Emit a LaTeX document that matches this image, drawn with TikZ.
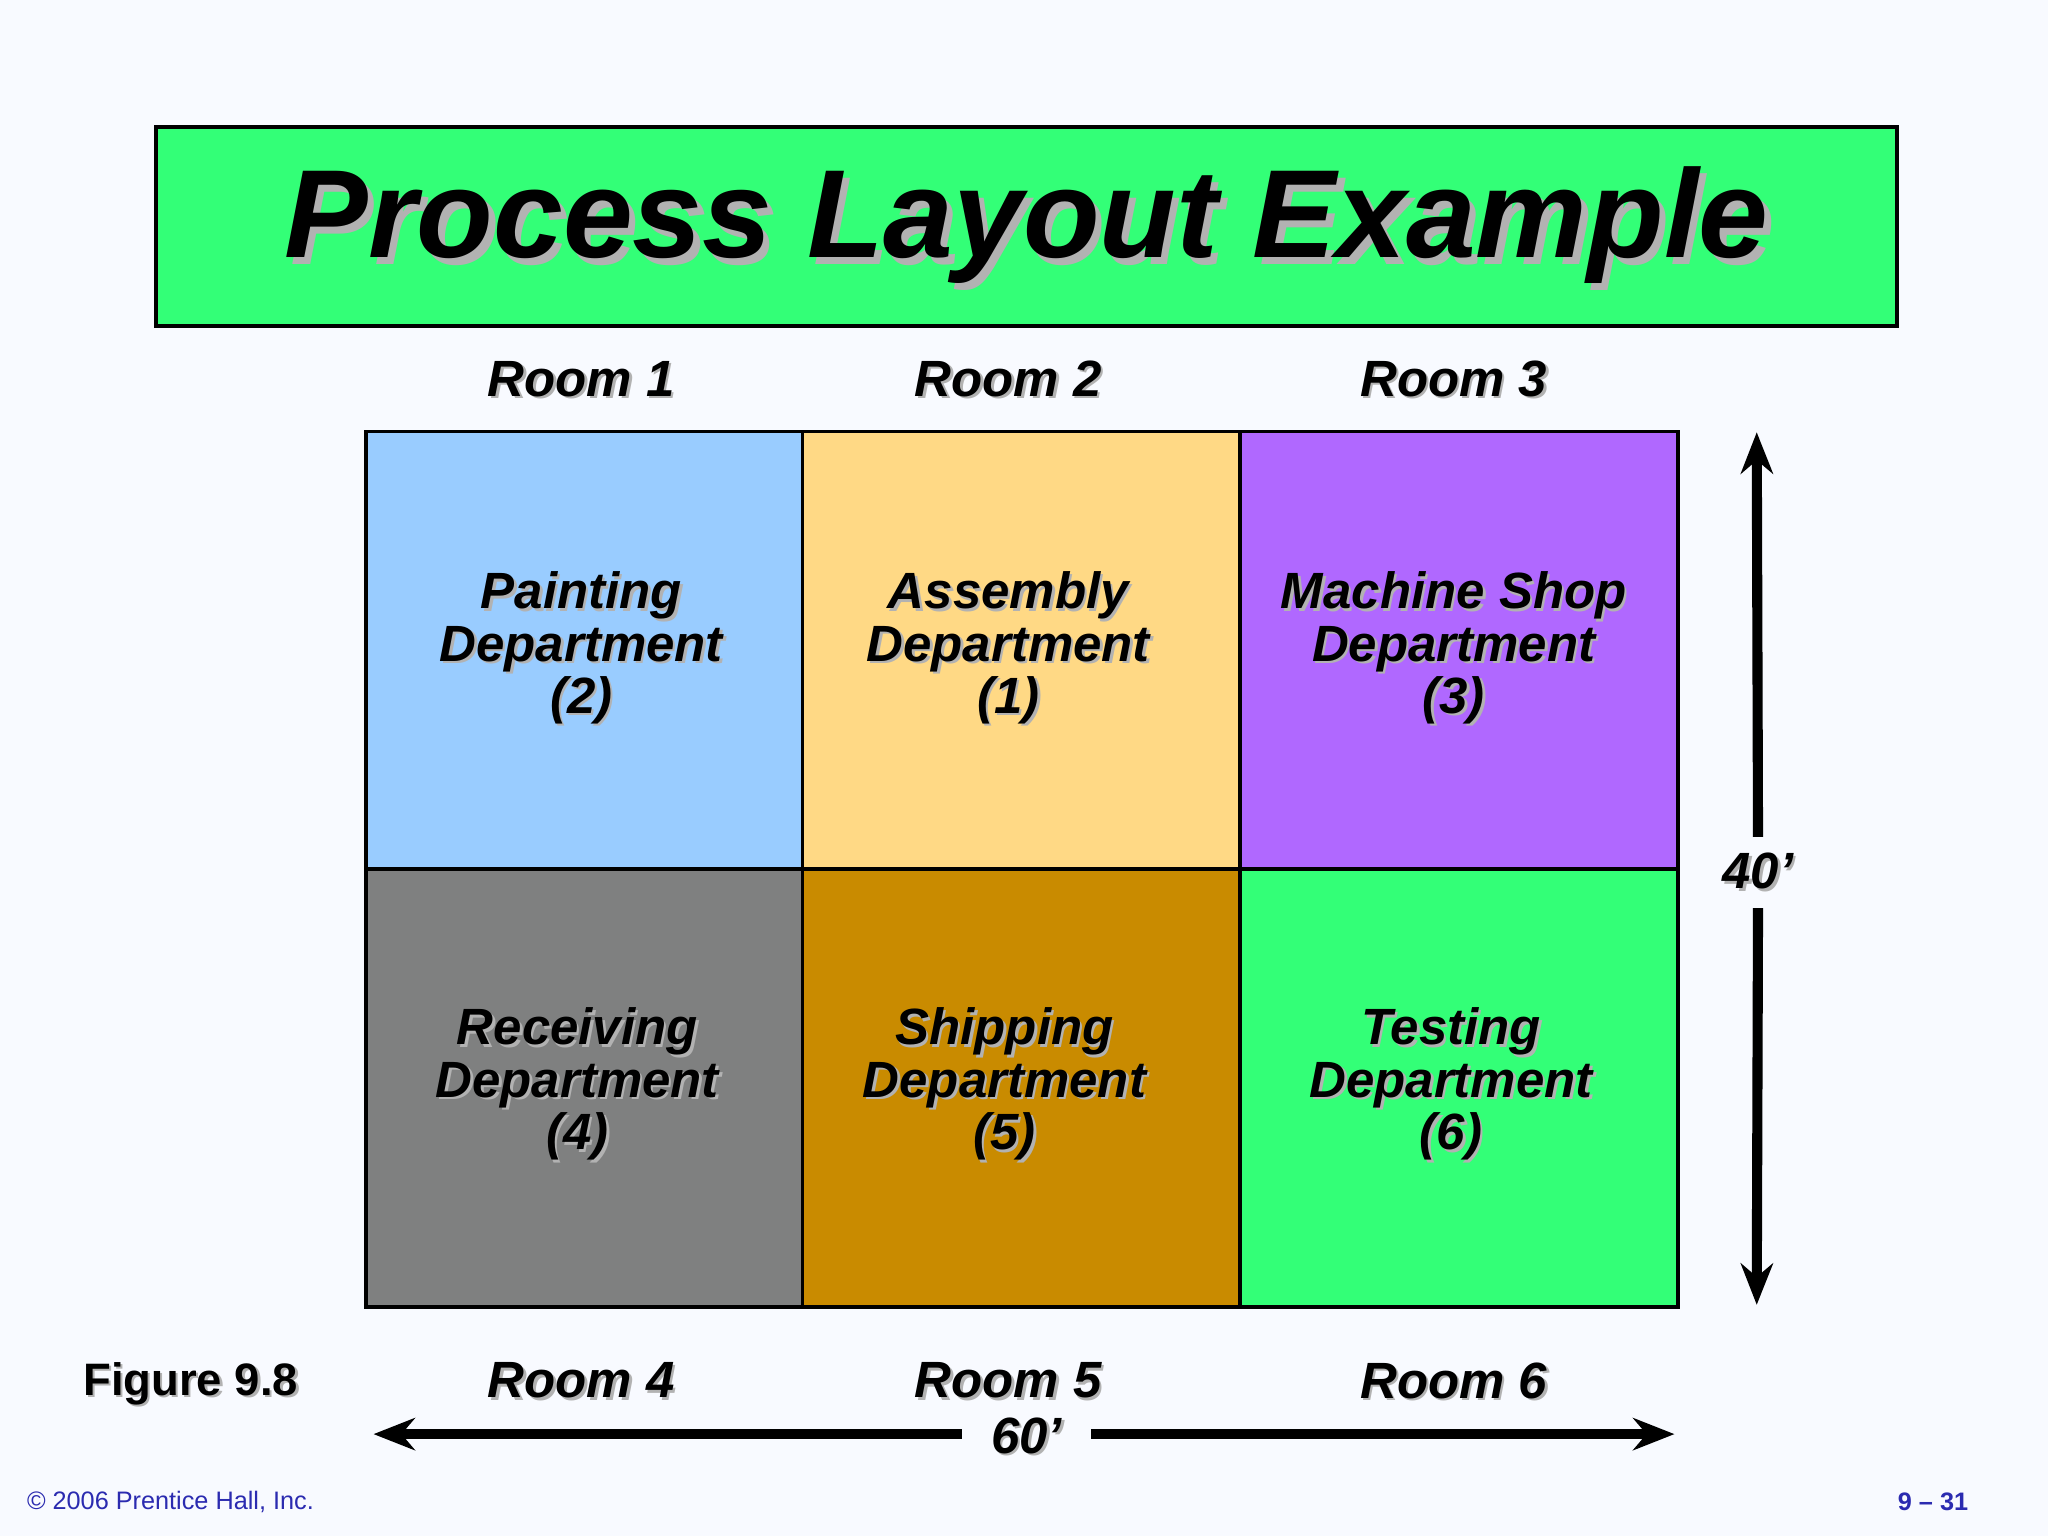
\documentclass[tikz,border=0pt]{standalone}
\usepackage{fontspec}
\setmainfont{Liberation Sans}
\usetikzlibrary{arrows.meta}
\definecolor{bg}{HTML}{F8FAFF}
\definecolor{grn}{HTML}{33FF77}
\definecolor{paint}{HTML}{99CCFF}
\definecolor{assem}{HTML}{FFD985}
\definecolor{mach}{HTML}{B068FF}
\definecolor{recv}{HTML}{7F8080}
\definecolor{ship}{HTML}{C98B00}
\definecolor{copy}{HTML}{2B2BB0}
\newcommand{\shd}[1]{\makebox[0pt][l]{\hspace{0.05em}\raisebox{-0.05em}{\textcolor{gray!60}{#1}}}#1}
\tikzset{
 cell/.style={draw=black,line width=0.8pt,minimum width=3.35cm,minimum height=3.35cm,anchor=north west,inner sep=0pt},
 dept/.style={align=center,font=\fontsize{11.1}{11.4}\selectfont\bfseries\itshape},
 room/.style={font=\fontsize{11.1}{14}\selectfont\bfseries\itshape},
 dim/.style={line width=2.2pt,-{Stealth[length=9pt,width=7pt]}},
}
\begin{document}
\begin{tikzpicture}[x=0.01cm,y=-0.01cm]
\fill[bg] (0,0) rectangle (1568,1176);
\node[draw=black,line width=0.8pt,fill=grn,minimum width=13.32cm,minimum height=1.52cm,anchor=north west,inner sep=0pt] (title) at (118,96) {};
\node[font=\fontsize{27.3}{30}\selectfont\bfseries\itshape] (tt) at (786,175) {\shd{Process Layout Example}};
\node[cell,fill=paint] (c1) at (279,329) {};
\node[cell,fill=assem] (c2) at (613,329) {};
\node[cell,fill=mach] (c3) at (948,329) {};
\node[cell,fill=recv] (c4) at (279,664) {};
\node[cell,fill=ship] (c5) at (613,664) {};
\node[cell,fill=grn] (c6) at (948,664) {};
\node[dept] at (445,497) {\shd{Painting}\\\shd{Department}\\\shd{(2)}};
\node[dept] at (772,497) {\shd{Assembly}\\\shd{Department}\\\shd{(1)}};
\node[dept] at (1113,497) {\shd{Machine Shop}\\\shd{Department}\\\shd{(3)}};
\node[dept] at (442,831) {\shd{Receiving}\\\shd{Department}\\\shd{(4)}};
\node[dept] at (769,831) {\shd{Shipping}\\\shd{Department}\\\shd{(5)}};
\node[dept] at (1111,831) {\shd{Testing}\\\shd{Department}\\\shd{(6)}};
\node[room] (r1) at (445,291) {\shd{Room 1}};
\node[room] (r2) at (772,291) {\shd{Room 2}};
\node[room] (r3) at (1113,291) {\shd{Room 3}};
\node[room] (r4) at (445,1058) {\shd{Room 4}};
\node[room] (r5) at (772,1058) {\shd{Room 5}};
\node[room] (r6) at (1113,1058) {\shd{Room 6}};
\node[font=\fontsize{9.9}{12}\selectfont\bfseries] (fig) at (146,1060) {\shd{Figure 9.8}};
\node[room] (h) at (1346,668) {\shd{40’}};
\coordinate (ht) at (1345,331); \coordinate (hb) at (1345,999);
\draw[dim] (h.north) -- (ht);
\draw[dim] (h.south) -- (hb);
\node[room] (w) at (786,1100) {\shd{60’}};
\coordinate (wl) at (286,1098); \coordinate (wr) at (1282,1098);
\draw[dim] (w.west) ++(-10,-2) coordinate (wa) (wa) -- (wl);
\draw[dim] (w.east) ++(10,-2) coordinate (wb) (wb) -- (wr);
\node[font=\fontsize{5.5}{7}\selectfont,text=copy,anchor=west,inner sep=0pt] (cp) at (20,1150) {© 2006 Prentice Hall, Inc.};
\node[font=\fontsize{5.5}{7}\selectfont\bfseries,text=copy] (pg) at (1480,1150) {9 – 31};
\end{tikzpicture}
\end{document}
